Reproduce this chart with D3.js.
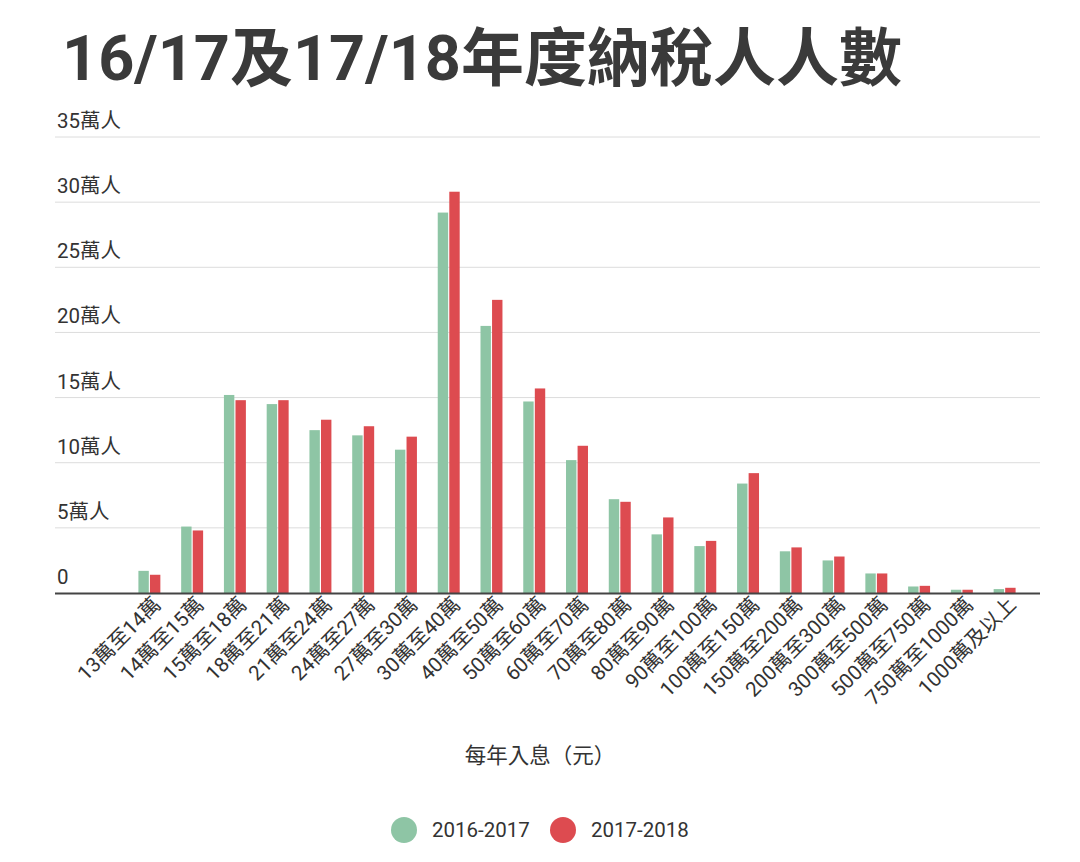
<!DOCTYPE html>
<html><head><meta charset="utf-8">
<script src="https://cdn.jsdelivr.net/npm/d3@7"></script>
<style>body{margin:0;background:#fff;font-family:Roboto,"Noto Sans CJK TC",sans-serif}</style>
</head><body><div id="chart"></div>
<script>
const categories = ["13萬至14萬","14萬至15萬","15萬至18萬","18萬至21萬","21萬至24萬","24萬至27萬","27萬至30萬","30萬至40萬","40萬至50萬","50萬至60萬","60萬至70萬","70萬至80萬","80萬至90萬","90萬至100萬","100萬至150萬","150萬至200萬","200萬至300萬","300萬至500萬","500萬至750萬","750萬至1000萬","1000萬及以上"];
const y1617 = [1.7,5.1,15.2,14.5,12.5,12.1,11.0,29.2,20.5,14.7,10.2,7.2,4.5,3.6,8.4,3.2,2.5,1.5,0.5,0.25,0.3];
const y1718 = [1.4,4.8,14.8,14.8,13.3,12.8,12.0,30.8,22.5,15.7,11.3,7.0,5.8,4.0,9.2,3.5,2.8,1.5,0.55,0.25,0.4];
const yTicks = [0,5,10,15,20,25,30,35];
const seriesNames = ["2016-2017","2017-2018"];
const colors = ["#8ec5a5","#dd4b50"];

const svg = d3.select('#chart').append('svg').attr('width',1080).attr('height',862);
const font = 'Roboto,"Noto Sans CJK TC",sans-serif';

svg.append('text').attr('x',62).attr('y',80).attr('font-size',63).attr('font-weight',700)
  .attr('fill','#3a3a3a').attr('font-family',font).text('16/17及17/18年度納稅人人數');

const y = d3.scaleLinear().domain([0,35]).range([593,137]);
const x = d3.scaleBand().domain(categories).range([128,1026]);
const xs = d3.scaleBand().domain(seriesNames).range([0,x.bandwidth()]).paddingInner(0.1).paddingOuter(0.9);

const grid = svg.append('g');
yTicks.forEach(t=>{
  if(t>0) grid.append('line').attr('x1',55).attr('x2',1040).attr('y1',y(t)).attr('y2',y(t)).attr('stroke','#dcdcdc');
  grid.append('text').attr('x',57).attr('y',y(t)-9).attr('font-size',20.5).attr('fill','#333')
    .attr('font-family',font).text(t===0?'0':t+'萬人');
});

[y1617,y1718].forEach((vals,si)=>{
  svg.append('g').selectAll('rect').data(vals).join('rect')
    .attr('x',(d,i)=>x(categories[i])+xs(seriesNames[si]))
    .attr('width',xs.bandwidth())
    .attr('y',d=>y(d)).attr('height',d=>y(0)-y(d))
    .attr('fill',colors[si]);
});

svg.append('line').attr('x1',55).attr('x2',1040).attr('y1',593.5).attr('y2',593.5).attr('stroke','#444').attr('stroke-width',2);

const xa = svg.append('g').attr('transform','translate(0,593)')
  .call(d3.axisBottom(x).tickSize(0).tickPadding(8));
xa.select('.domain').remove();
xa.selectAll('text').attr('font-size',20.5).attr('fill','#333').attr('font-family',font)
  .attr('text-anchor','end').attr('transform','translate(2,2) rotate(-45)').attr('dy','0.35em').attr('dx','0');

svg.append('text').attr('x',540).attr('y',763).attr('text-anchor','middle').attr('font-size',21.5)
  .attr('fill','#333').attr('font-family',font).text('每年入息（元）');

const lg = [[404,seriesNames[0],colors[0]],[563,seriesNames[1],colors[1]]];
lg.forEach(([cx,t,c])=>{
  svg.append('circle').attr('cx',cx).attr('cy',830).attr('r',13).attr('fill',c);
  svg.append('text').attr('x',cx+28).attr('y',837).attr('font-size',20.5).attr('fill','#333')
    .attr('font-family',font).text(t);
});
</script></body></html>
